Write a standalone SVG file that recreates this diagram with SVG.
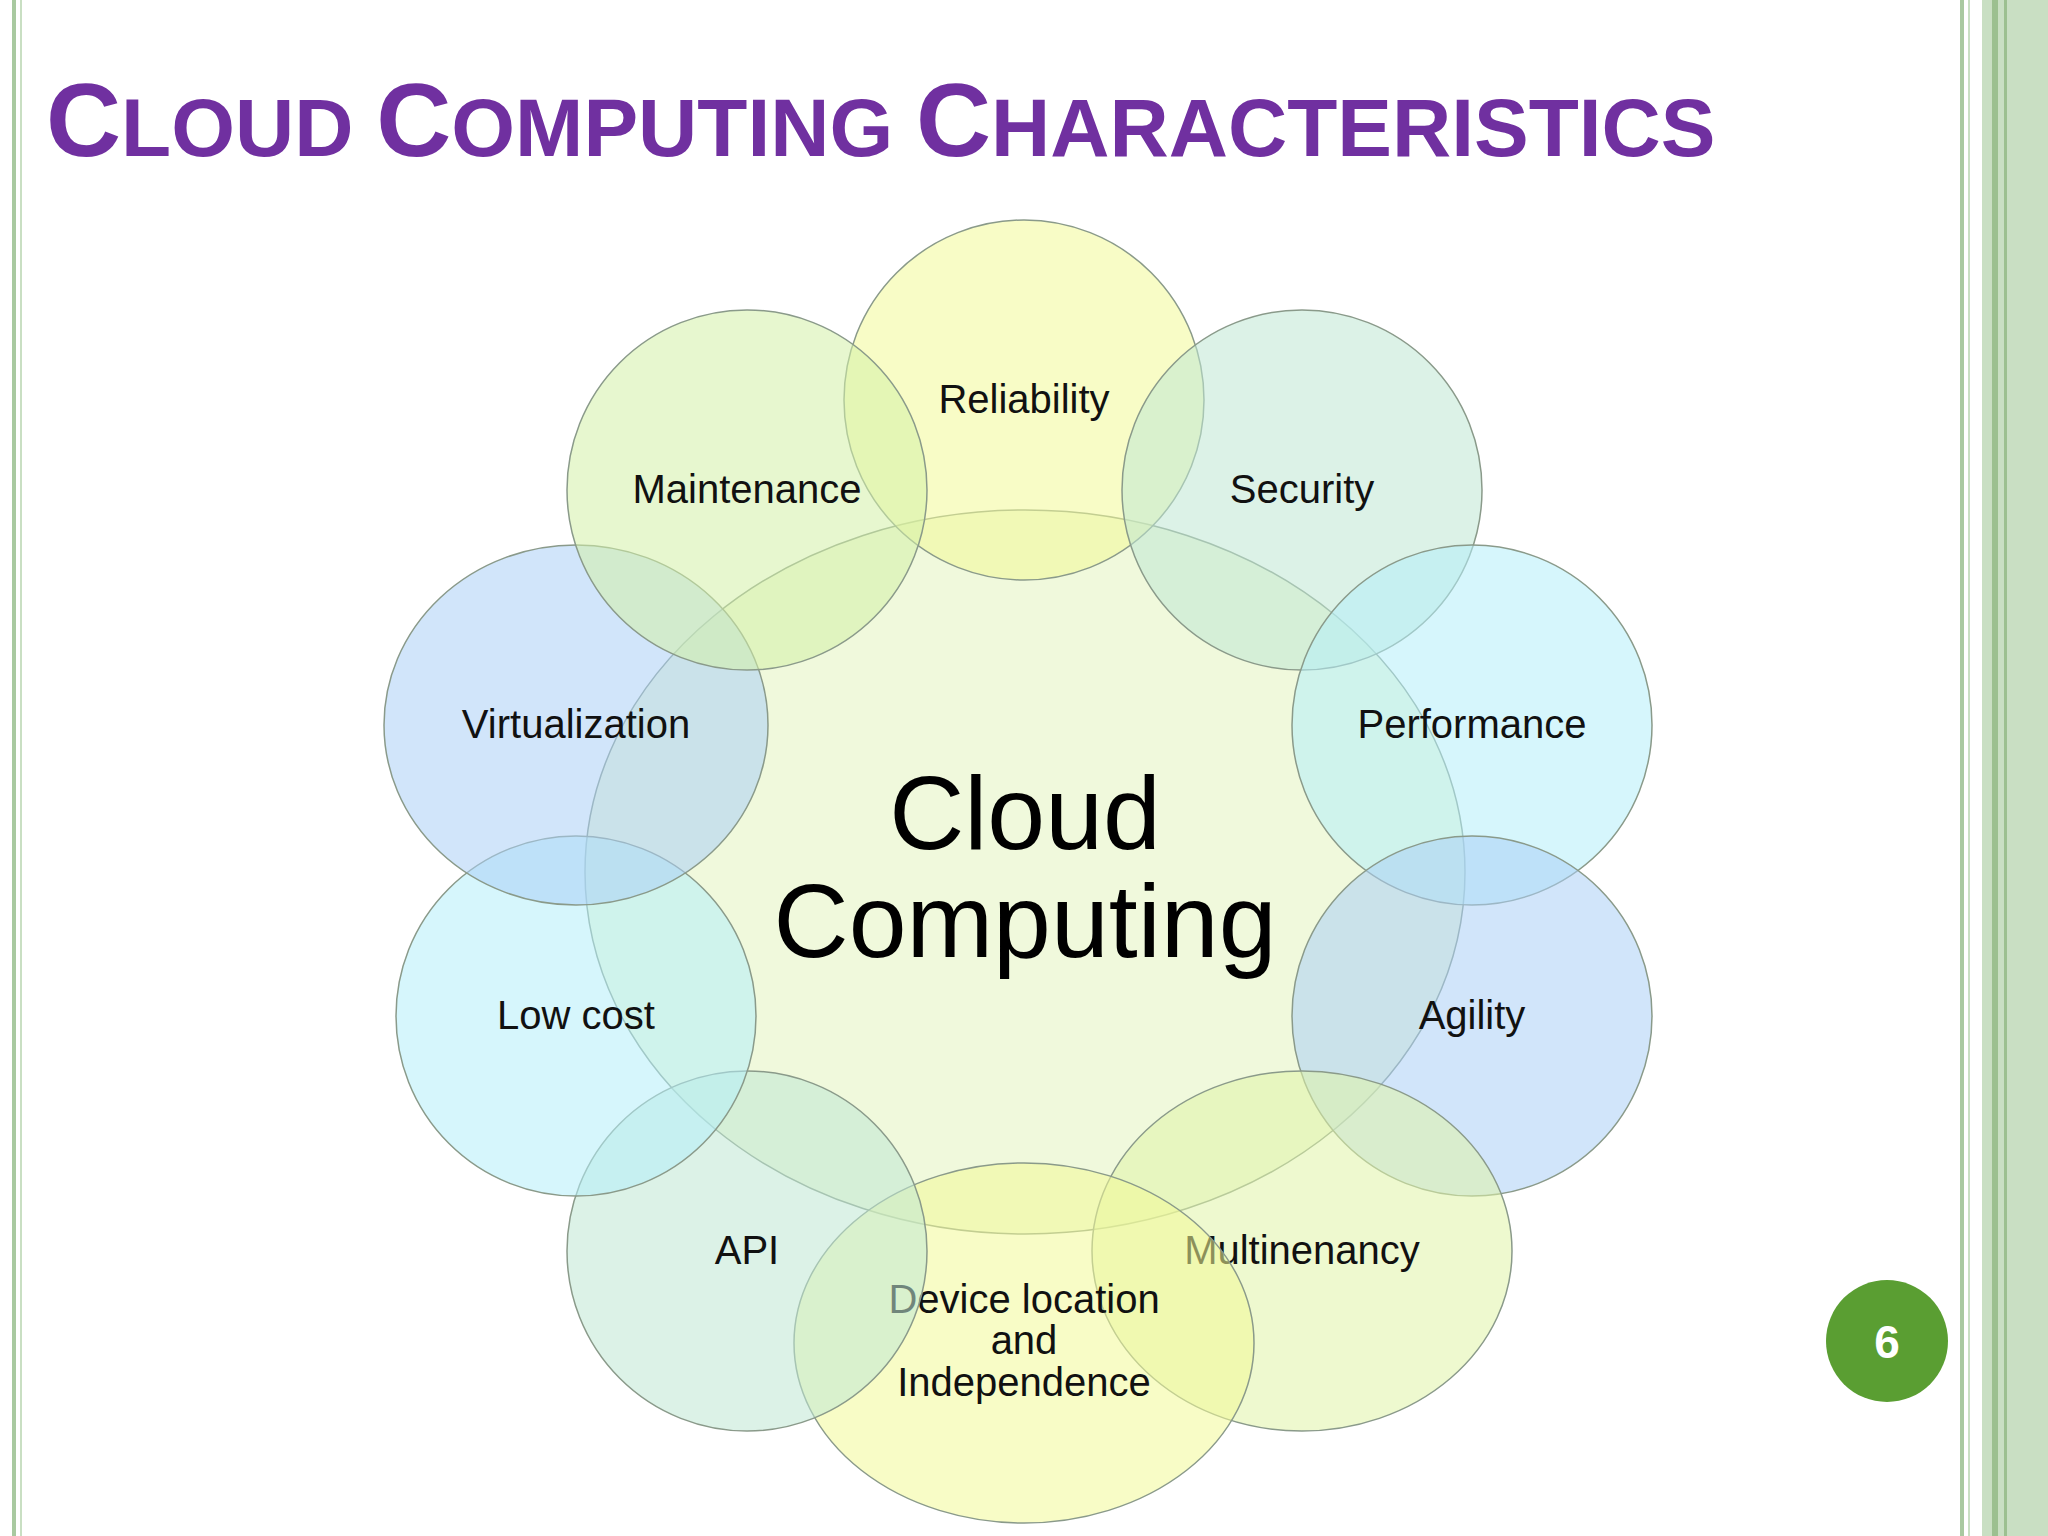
<svg xmlns="http://www.w3.org/2000/svg" width="2048" height="1536" viewBox="0 0 2048 1536">
<style>
.c{stroke:#8a9a8a;stroke-width:1.5;fill-opacity:0.55}
.l{font-family:"Liberation Sans",Arial,sans-serif;font-size:40px;fill:#111;text-anchor:middle}
.big{font-family:"Liberation Sans",Arial,sans-serif;font-size:104px;fill:#000;text-anchor:middle}
.t{font-family:"Liberation Sans",Arial,sans-serif;font-weight:bold;fill:#7030A0}
</style>
<rect width="2048" height="1536" fill="#fff"/>
<g id="borders">
<rect x="12" y="0" width="4" height="1536" fill="#a9c9a0"/>
<rect x="20" y="0" width="2" height="1536" fill="#c9dfc3"/>
<rect x="1960" y="0" width="4" height="1536" fill="#a9c9a0"/>
<rect x="1968" y="0" width="2" height="1536" fill="#c9dfc3"/>
<rect x="1982" y="0" width="66" height="1536" fill="#c9dfc3"/>
<rect x="1992" y="0" width="6" height="1536" fill="#9cc090"/>
<rect x="2004" y="0" width="3" height="1536" fill="#9cc090"/>
</g>
<text class="t" x="46" y="156"><tspan font-size="104">C</tspan><tspan font-size="82">LOUD </tspan><tspan font-size="104">C</tspan><tspan font-size="82">OMPUTING </tspan><tspan font-size="104">C</tspan><tspan font-size="82">HARACTERISTICS</tspan></text>
<g id="center"><ellipse class="c" cx="1025" cy="872" rx="440" ry="362" fill="#e4f4c0"/></g>
<g id="reliability"><ellipse class="c" cx="1024" cy="400" rx="180" ry="180" fill="#f2fa98"/><text class="l" x="1024" y="413">Reliability</text></g>
<g id="security"><ellipse class="c" cx="1302" cy="490" rx="180" ry="180" fill="#bfe8d4"/><text class="l" x="1302" y="503">Security</text></g>
<g id="performance"><ellipse class="c" cx="1472" cy="725" rx="180" ry="180" fill="#b4eefa"/><text class="l" x="1472" y="738">Performance</text></g>
<g id="agility"><ellipse class="c" cx="1472" cy="1016" rx="180" ry="180" fill="#acd0f6"/><text class="l" x="1472" y="1029">Agility</text></g>
<g id="multinenancy"><ellipse class="c" cx="1302" cy="1251" rx="210" ry="180" fill="#e0f4a8"/><text class="l" x="1302" y="1264">Multinenancy</text></g>
<g id="device"><ellipse class="c" cx="1024" cy="1343" rx="230" ry="180" fill="#f2fa98"/><text class="l" x="1024" y="1313">Device location</text><text class="l" x="1024" y="1354">and</text><text class="l" x="1024" y="1396">Independence</text></g>
<g id="api"><ellipse class="c" cx="747" cy="1251" rx="180" ry="180" fill="#bfe8d4"/><text class="l" x="747" y="1264">API</text></g>
<g id="lowcost"><ellipse class="c" cx="576" cy="1016" rx="180" ry="180" fill="#b4eefa"/><text class="l" x="576" y="1029">Low cost</text></g>
<g id="virtualization"><ellipse class="c" cx="576" cy="725" rx="192" ry="180" fill="#acd0f6"/><text class="l" x="576" y="738">Virtualization</text></g>
<g id="maintenance"><ellipse class="c" cx="747" cy="490" rx="180" ry="180" fill="#d4f0a8"/><text class="l" x="747" y="503">Maintenance</text></g>
<g id="centertext"><text class="big" x="1025" y="849">Cloud</text><text class="big" x="1025" y="957">Computing</text></g>
<g id="page"><circle cx="1887" cy="1341" r="61" fill="#5a9e32"/><text x="1887" y="1358" text-anchor="middle" font-family="Liberation Sans,Arial,sans-serif" font-weight="bold" font-size="46" fill="#fff">6</text></g>
<g id="connectors"/>
</svg>
